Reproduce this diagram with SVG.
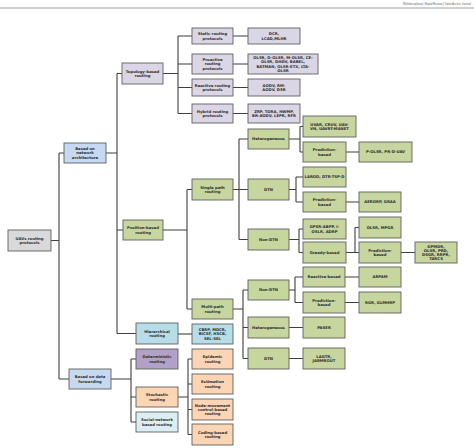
<svg xmlns="http://www.w3.org/2000/svg" width="474" height="448" viewBox="0 0 474 448">
<style>
.b{stroke:#5f5f5f;stroke-width:0.9}
.gr{fill:#d9d9d9}.bl{fill:#c6d9f1}.lv{fill:#dbd6e6}.gn{fill:#c6d69e}
.hi{fill:#b7dde8}.pu{fill:#b2a1c7}.or{fill:#fcd5b4}.sk{fill:#daeef3}
.t{font-family:"DejaVu Sans","Liberation Sans",sans-serif;font-weight:bold;font-size:3.8px;fill:#2e2e2e;text-anchor:middle}
.c{stroke:#3f3f3f;stroke-width:1.1;fill:none}
</style>
<rect width="474" height="448" fill="#ffffff"/>
<line x1="0" y1="8" x2="474" y2="8" stroke="#8a8a8a" stroke-width="0.8"/>
<text x="471" y="5" font-family="Liberation Sans, sans-serif" font-size="2.8" fill="#666" text-anchor="end">Multidisciplinary | Rapid Review | Open Access Journal</text>
<g id="connectors" class="c">
<path d="M51 240.5H59M59 153V379M59 153H64M59 379H69"/>
<path d="M106 153H117M117 73.5V333.5M117 73.5H122M117 230H123M117 333.5H136"/>
<path d="M163 73.5H178M178 36V113.5M178 36H192M178 64H192M178 87.5H192M178 113.5H192"/>
<path d="M233 36H248M233 64H248M233 87.5H248M233 113.5H248"/>
<path d="M163 230H187M187 189.5V309M187 189.5H192M187 309H192"/>
<path d="M233 189.5H239M239 139V239.5M239 139H248M239 189.5H248M239 239.5H248"/>
<path d="M289 139H300M300 126.5V152M300 126.5H303M300 152H303M346 152H359"/>
<path d="M289 189.5H296M296 177V202M296 177H303M296 202H303M346 202H359"/>
<path d="M289 239.5H299M299 229V252.5M299 229H303M299 252.5H303"/>
<path d="M346 252.5H355M355 227.5V252.5M355 227.5H359M355 252.5H359M401 252.5H415"/>
<path d="M233 309H243M243 290V358.5M243 290H248M243 327.5H248M243 358.5H248"/>
<path d="M289 290H295M295 277V302.5M295 277H303M295 302.5H303M345 277H359M345 302.5H359"/>
<path d="M289 327.5H303M289 358.5H303"/>
<path d="M178 334H192"/>
<path d="M111 379H131M131 359V422M131 359H136M131 397H136M131 422H136"/>
<path d="M178 397H188M188 359V434.5M188 359H192M188 384H192M188 409.5H192M188 434.5H192"/>
</g>
<g id="root"><rect class="b gr" x="8" y="230" width="43" height="21"/><text class="t" x="29.5" y="239.7">UAVs routing<tspan x="29.5" dy="4.4">protocols</tspan></text></g>
<g id="arch"><rect class="b bl" x="64" y="143" width="42" height="20"/><text class="t" x="85" y="150">Based on<tspan x="85" dy="4.4">network</tspan><tspan x="85" dy="4.4">architecture</tspan></text></g>
<g id="datafw"><rect class="b bl" x="69" y="369" width="42" height="20"/><text class="t" x="90" y="378.2">Based on data<tspan x="90" dy="4.4">forwarding</tspan></text></g>
<g id="topo"><rect class="b lv" x="122" y="63" width="41" height="21"/><text class="t" x="142.5" y="72.7">Topology-based<tspan x="142.5" dy="4.4">routing</tspan></text></g>
<g id="pos"><rect class="b gn" x="123" y="220" width="40" height="20"/><text class="t" x="143" y="229.2">Position-based<tspan x="143" dy="4.4">routing</tspan></text></g>
<g id="hier"><rect class="b hi" x="136" y="323" width="42" height="21"/><text class="t" x="157" y="332.7">Hierarchical<tspan x="157" dy="4.4">routing</tspan></text></g>
<g id="determ"><rect class="b pu" x="136" y="349" width="42" height="20"/><text class="t" x="157" y="358.2">Deterministic<tspan x="157" dy="4.4">routing</tspan></text></g>
<g id="stoch"><rect class="b or" x="136" y="387" width="42" height="20"/><text class="t" x="157" y="396.2">Stochastic<tspan x="157" dy="4.4">routing</tspan></text></g>
<g id="social"><rect class="b sk" x="136" y="412" width="42" height="20"/><text class="t" x="157" y="421.2">Social-network<tspan x="157" dy="4.4">based routing</tspan></text></g>
<g id="static"><rect class="b lv" x="192" y="28" width="41" height="16"/><text class="t" x="212.5" y="35.2">Static routing<tspan x="212.5" dy="4.4">protocols</tspan></text></g>
<g id="proact"><rect class="b lv" x="192" y="54" width="41" height="20"/><text class="t" x="212.5" y="61">Proactive<tspan x="212.5" dy="4.4">routing</tspan><tspan x="212.5" dy="4.4">protocols</tspan></text></g>
<g id="react"><rect class="b lv" x="192" y="79" width="41" height="17"/><text class="t" x="212.5" y="86.7">Reactive routing<tspan x="212.5" dy="4.4">protocols</tspan></text></g>
<g id="hybrid"><rect class="b lv" x="192" y="104" width="41" height="19"/><text class="t" x="212.5" y="112.7">Hybrid routing<tspan x="212.5" dy="4.4">protocols</tspan></text></g>
<g id="dcr"><rect class="b lv" x="248" y="28" width="52" height="16"/><text class="t" x="274" y="35.2">DCR,<tspan x="274" dy="4.4">LCAD,MLHR</tspan></text></g>
<g id="olsr"><rect class="b lv" x="248" y="54" width="70" height="20"/><text class="t" x="283" y="59.1">OLSR, D-OLSR, M-OLSR, CE-<tspan x="283" dy="4.2">OLSR, DHDV, BABEL,</tspan><tspan x="283" dy="4.2">BATMAN, OLSR-ETX, LTA-</tspan><tspan x="283" dy="4.2">OLSR</tspan></text></g>
<g id="aodv"><rect class="b lv" x="248" y="79" width="52" height="17"/><text class="t" x="274" y="86.7">AODV, RM-<tspan x="274" dy="4.4">AODV,  DSR</tspan></text></g>
<g id="zrp"><rect class="b lv" x="248" y="104" width="52" height="19"/><text class="t" x="274" y="112.7">ZRP, TORA, HWMP,<tspan x="274" dy="4.4">BR-AODV, LEPR, RFR</tspan></text></g>
<g id="single"><rect class="b gn" x="192" y="179" width="41" height="21"/><text class="t" x="212.5" y="188.7">Single path<tspan x="212.5" dy="4.4">routing</tspan></text></g>
<g id="multi"><rect class="b gn" x="192" y="299" width="41" height="20"/><text class="t" x="212.5" y="308.2">Multi-path<tspan x="212.5" dy="4.4">routing</tspan></text></g>
<g id="cbrp"><rect class="b hi" x="192" y="324" width="41" height="20"/><text class="t" x="212.5" y="331">CBRP, MDCR,<tspan x="212.5" dy="4.4">BICSF, HSCB,</tspan><tspan x="212.5" dy="4.4">SEL-SEL</tspan></text></g>
<g id="epid"><rect class="b or" x="192" y="349" width="41" height="20"/><text class="t" x="212.5" y="358.2">Epidemic<tspan x="212.5" dy="4.4">routing</tspan></text></g>
<g id="estim"><rect class="b or" x="192" y="374" width="41" height="20"/><text class="t" x="212.5" y="383.2">Estimation<tspan x="212.5" dy="4.4">routing</tspan></text></g>
<g id="nodemv"><rect class="b or" x="192" y="399" width="41" height="21"/><text class="t" x="212.5" y="406.5">Node-movement<tspan x="212.5" dy="4.4">control-based</tspan><tspan x="212.5" dy="4.4">routing</tspan></text></g>
<g id="coding"><rect class="b or" x="192" y="424" width="41" height="21"/><text class="t" x="212.5" y="433.7">Coding-based<tspan x="212.5" dy="4.4">routing</tspan></text></g>
<g id="hetero"><rect class="b gn" x="248" y="129" width="41" height="20"/><text class="t" x="268.5" y="140.4">Heterogeneous</text></g>
<g id="dtn"><rect class="b gn" x="248" y="179" width="41" height="21"/><text class="t" x="268.5" y="190.9">DTN</text></g>
<g id="nondtn"><rect class="b gn" x="248" y="229" width="41" height="21"/><text class="t" x="268.5" y="240.9">Non-DTN</text></g>
<g id="nondtn2"><rect class="b gn" x="248" y="280" width="41" height="20"/><text class="t" x="268.5" y="291.4">Non-DTN</text></g>
<g id="hetero2"><rect class="b gn" x="248" y="317" width="41" height="21"/><text class="t" x="268.5" y="328.9">Heterogeneous</text></g>
<g id="dtn2"><rect class="b gn" x="248" y="348" width="41" height="21"/><text class="t" x="268.5" y="359.9">DTN</text></g>
<g id="uvar"><rect class="b gn" x="303" y="116" width="53" height="21"/><text class="t" x="329.5" y="125.7">UVAR, CRUV, UAV-<tspan x="329.5" dy="4.4">VN, UAVRT-MANET</tspan></text></g>
<g id="pred1"><rect class="b gn" x="303" y="142" width="43" height="20"/><text class="t" x="324.5" y="151.2">Prediction-<tspan x="324.5" dy="4.4">based</tspan></text></g>
<g id="polsr"><rect class="b gn" x="359" y="142" width="53" height="20"/><text class="t" x="385.5" y="153.4">P-OLSR, PR-D-UAV</text></g>
<g id="larod"><rect class="b gn" x="303" y="167" width="43" height="20"/><text class="t" x="324.5" y="178.4">LAROD, DTR-TSP-D</text></g>
<g id="pred2"><rect class="b gn" x="303" y="192" width="43" height="20"/><text class="t" x="324.5" y="201.2">Prediction-<tspan x="324.5" dy="4.4">based</tspan></text></g>
<g id="aerorp"><rect class="b gn" x="359" y="192" width="42" height="20"/><text class="t" x="380" y="203.4">AERORP, GRAA</text></g>
<g id="gpsr"><rect class="b gn" x="303" y="219" width="43" height="20"/><text class="t" x="324.5" y="228.2">GPSR-ABPP, I-<tspan x="324.5" dy="4.4">OSLR, ADRP</tspan></text></g>
<g id="greedy"><rect class="b gn" x="303" y="242" width="43" height="21"/><text class="t" x="324.5" y="253.9">Greedy-based</text></g>
<g id="olsrmpgr"><rect class="b gn" x="359" y="217" width="42" height="21"/><text class="t" x="380" y="228.9">OLSR, MPGR</text></g>
<g id="pred3"><rect class="b gn" x="359" y="242" width="42" height="21"/><text class="t" x="380" y="251.7">Prediction-<tspan x="380" dy="4.4">based</tspan></text></g>
<g id="gpmor"><rect class="b gn" x="415" y="242" width="42" height="21"/><text class="t" x="436" y="247.6">GPMOR,<tspan x="436" dy="4.2">OLSR, PRD,</tspan><tspan x="436" dy="4.2">DSGR, RRPR,</tspan><tspan x="436" dy="4.2">TARCS</tspan></text></g>
<g id="reactb"><rect class="b gn" x="303" y="267" width="42" height="20"/><text class="t" x="324" y="278.4">Reactive-based</text></g>
<g id="arpam"><rect class="b gn" x="359" y="267" width="42" height="20"/><text class="t" x="380" y="278.4">ARPAM</text></g>
<g id="pred4"><rect class="b gn" x="303" y="292" width="42" height="21"/><text class="t" x="324" y="301.7">Prediction-<tspan x="324" dy="4.4">based</tspan></text></g>
<g id="rgr"><rect class="b gn" x="359" y="292" width="42" height="21"/><text class="t" x="380" y="303.9">RGR, GLMHRP</text></g>
<g id="paser"><rect class="b gn" x="303" y="317" width="42" height="21"/><text class="t" x="324" y="328.9">PASER</text></g>
<g id="lagtr"><rect class="b gn" x="303" y="348" width="42" height="21"/><text class="t" x="324" y="357.7">LAGTR,<tspan x="324" dy="4.4">JARMROUT</tspan></text></g>
</svg>
